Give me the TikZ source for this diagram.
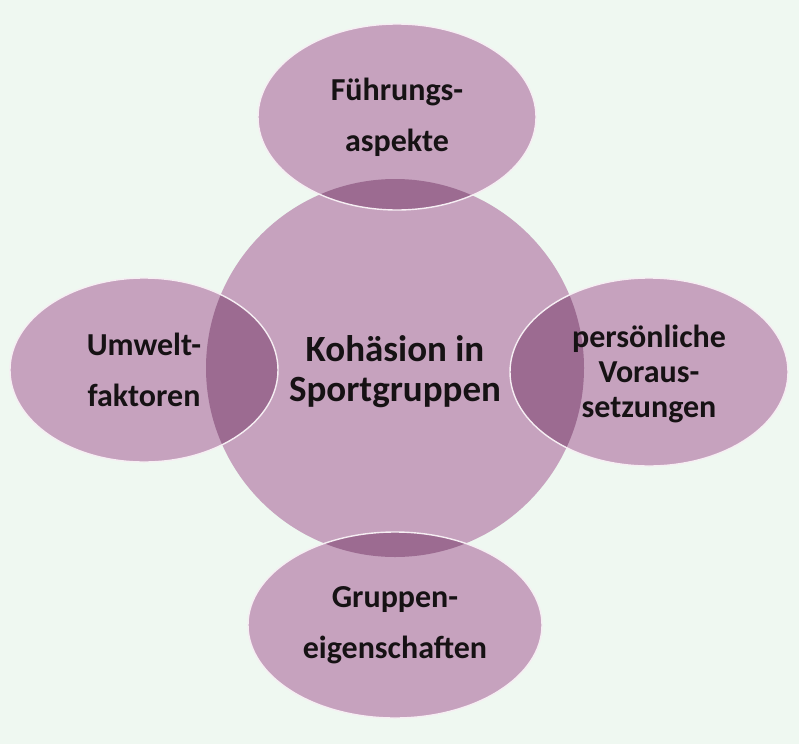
\documentclass[tikz,border=0pt]{standalone}
\usepackage{fontspec}
\setmainfont{Carlito}
\usepackage{tikz}
\usetikzlibrary{shapes.geometric, positioning}
\definecolor{PaleMint}{HTML}{EFF8F1}
\definecolor{Mauve}{HTML}{C6A2BE}
\definecolor{DeepMauve}{HTML}{9C6B91}
\definecolor{Rim}{HTML}{F6EEF3}
\definecolor{Ink}{HTML}{161214}

\begin{document}
\begin{tikzpicture}[x=1pt, y=-1pt,
    hub/.style={circle, fill=Mauve, minimum size=378pt, inner sep=0pt},
    petal/.style={ellipse, fill=Mauve, inner sep=0pt},
    rim/.style={draw=Rim, line width=1.4pt},
    lens/.style={fill=DeepMauve},
    hubtext/.style={text=Ink, align=center, font=\fontsize{37}{40}\selectfont\bfseries},
    petaltext/.style={text=Ink, align=center, font=\fontsize{32}{51}\selectfont\bfseries}]

\fill[PaleMint] (0,0) rectangle (799,744);
\useasboundingbox (0,0) rectangle (799,744);

\node[hub] (hub) at (395,368) {};
\node[petal, minimum width=278pt, minimum height=186pt] (lead) at (397,117) {};
\node[petal, minimum width=268pt, minimum height=184pt] (env) at (144,370) {};
\node[petal, minimum width=278pt, minimum height=188pt] (pers) at (649,372) {};
\node[petal, minimum width=294pt, minimum height=186pt] (group) at (395,625) {};

% darker where a petal lies over the hub
\begin{scope}
  \clip (hub.center) circle (189);
  \fill[lens] (lead.center) ellipse (139 and 93);
  \fill[lens] (env.center) ellipse (134 and 92);
  \fill[lens] (pers.center) ellipse (139 and 94);
  \fill[lens] (group.center) ellipse (147 and 93);
\end{scope}

\draw[rim] (lead.center) ellipse (139 and 93);
\draw[rim] (env.center) ellipse (134 and 92);
\draw[rim] (pers.center) ellipse (139 and 94);
\draw[rim] (group.center) ellipse (147 and 93);

\node[hubtext] (hubname) at ([yshift=-4pt]hub.center) {Kohäsion in\\Sportgruppen};
\node[petaltext] (leadname) at (lead) {Führungs-\\aspekte};
\node[petaltext] (envname) at (env) {Umwelt-\\faktoren};
\node[petaltext, font=\fontsize{32}{35}\selectfont\bfseries] (persname)
    at ([yshift=-2pt]pers.center) {persönliche\\Voraus-\\setzungen};
\node[petaltext] (groupname) at (group) {Gruppen-\\eigenschaften};
\end{tikzpicture}
\end{document}
